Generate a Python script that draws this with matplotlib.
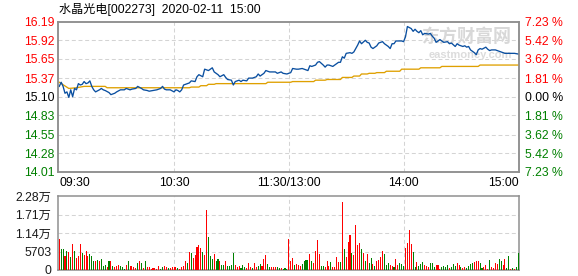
import matplotlib
matplotlib.use("Agg")
import matplotlib.pyplot as plt

plt.rcParams['font.family'] = ['Liberation Sans', 'Noto Sans CJK SC']

# Chart texts
title = "水晶光电[002273]  2020-02-11  15:00"
pre_close = 15.10
price_ticks = [14.01, 14.28, 14.55, 14.83, 15.10, 15.37, 15.65, 15.92, 16.19]
pct_labels = ["7.23 %", "5.42 %", "3.62 %", "1.81 %", "0.00 %",
              "1.81 %", "3.62 %", "5.42 %", "7.23 %"]
time_pos = [0, 60, 120, 180, 240]
time_labels = ["09:30", "10:30", "11:30/13:00", "14:00", "15:00"]
vol_ticks = [0, 5703, 11406, 17109, 22812]
vol_labels = ["0", "5703", "1.14万", "1.71万", "2.28万"]

# Price line (minute index, price)
price_min = [0, 1, 2, 3, 4, 5, 6, 7, 8, 9, 10, 11, 12, 13, 14, 15, 16, 17, 18, 19,
             21, 22, 23, 24, 26, 27, 29, 30, 32, 34, 35, 37, 38, 40, 41, 43, 44, 46, 47, 49,
             51, 53, 54, 55, 56, 58, 60, 61, 62, 63, 64, 65, 67, 68, 69, 71, 72, 73, 75, 76,
             78, 79, 80, 81, 83, 84, 86, 87, 88, 90, 91, 92, 94, 95, 96, 98, 99, 101, 103, 104,
             105, 107, 108, 110, 111, 113, 114, 116, 117, 119, 120, 121, 122, 124, 125, 127, 129, 130, 131, 132,
             134, 135, 136, 138, 139, 140, 141, 143, 144, 146, 147, 148, 149, 150, 152, 153, 154, 156, 157, 158,
             160, 161, 162, 163, 164, 165, 166, 167, 169, 170, 172, 173, 174, 175, 176, 178, 179, 180, 181, 182,
             184, 185, 186, 187, 188, 189, 190, 191, 193, 194, 195, 196, 197, 199, 200, 201, 203, 204, 205, 207,
             208, 209, 211, 212, 213, 214, 215, 217, 218, 219, 220, 221, 223, 224, 225, 226, 228, 229, 231, 233,
             234, 236, 238, 240]
price = [15.25, 15.31, 15.25, 15.15, 15.17, 15.09, 15.20, 15.10, 15.22, 15.20, 15.29, 15.27, 15.28, 15.32, 15.29, 15.30, 15.33, 15.25, 15.20, 15.17,
         15.20, 15.22, 15.20, 15.19, 15.16, 15.13, 15.15, 15.17, 15.20, 15.20, 15.22, 15.20, 15.21, 15.22, 15.25, 15.22, 15.20, 15.19, 15.18, 15.19,
         15.20, 15.22, 15.25, 15.21, 15.20, 15.20, 15.17, 15.20, 15.19, 15.17, 15.20, 15.27, 15.29, 15.30, 15.33, 15.32, 15.39, 15.42, 15.39, 15.50,
         15.48, 15.50, 15.52, 15.46, 15.42, 15.39, 15.42, 15.38, 15.35, 15.34, 15.27, 15.32, 15.34, 15.32, 15.34, 15.33, 15.37, 15.37, 15.39, 15.43,
         15.40, 15.44, 15.48, 15.46, 15.46, 15.46, 15.44, 15.46, 15.44, 15.43, 15.44, 15.45, 15.51, 15.50, 15.50, 15.51, 15.49, 15.48, 15.55, 15.54,
         15.56, 15.60, 15.61, 15.56, 15.53, 15.56, 15.56, 15.54, 15.56, 15.60, 15.60, 15.68, 15.66, 15.73, 15.74, 15.73, 15.75, 15.85, 15.91, 15.87,
         15.92, 15.89, 15.88, 15.82, 15.80, 15.82, 15.84, 15.88, 15.90, 15.87, 15.83, 15.80, 15.87, 15.87, 15.91, 15.91, 15.91, 15.90, 15.97, 16.12,
         16.09, 16.05, 16.08, 16.05, 16.03, 16.06, 16.00, 16.02, 16.01, 16.02, 15.98, 15.95, 15.89, 15.93, 15.91, 15.89, 15.90, 15.87, 15.88, 15.83,
         15.87, 15.85, 15.83, 15.84, 15.82, 15.83, 15.78, 15.74, 15.71, 15.78, 15.80, 15.79, 15.82, 15.79, 15.77, 15.78, 15.78, 15.77, 15.75, 15.73,
         15.73, 15.73, 15.73, 15.72]

# Average price line
avg_min = [0, 5, 9, 13, 24, 25, 61, 68, 69, 73, 74, 77, 78, 81, 82, 108, 109, 121, 122, 133,
           134, 139, 140, 147, 148, 153, 154, 157, 158, 161, 162, 165, 166, 170, 171, 178, 179, 188, 189, 199,
           200, 219, 220, 240]
avg_price = [15.31, 15.22, 15.23, 15.25, 15.25, 15.23, 15.23, 15.23, 15.24, 15.24, 15.26, 15.26, 15.28, 15.28, 15.29, 15.29, 15.31, 15.31, 15.32, 15.32,
             15.34, 15.34, 15.35, 15.35, 15.38, 15.38, 15.40, 15.40, 15.43, 15.43, 15.44, 15.44, 15.45, 15.45, 15.47, 15.47, 15.50, 15.50, 15.52, 15.52,
             15.54, 15.54, 15.56, 15.56]

# Volume per minute and direction (r = up, g = down)
volume = [9580, 6490, 6490, 4430, 5970, 5670, 4020, 8030, 5870, 3810,
          4330, 8030, 5250, 4640, 5870, 4330, 4940, 4330, 2880, 2880,
          3090, 2780, 3400, 1340, 1650, 930, 2880, 2880, 1240, 820,
          1240, 1550, 1240, 820, 310, 1550, 2880, 1240, 1240, 930,
          620, 2160, 2880, 2270, 620, 2880, 1030, 820, 410, 620,
          620, 410, 1240, 410, 820, 1240, 930, 720, 620, 930, 930,
          820, 620, 410, 820, 1240, 2780, 2060, 5460, 5360, 3610,
          4530, 7000, 7730, 6700, 5670, 4640, 18540, 10300, 4330, 3300,
          4940, 2880, 3400, 2880, 1550, 1550, 2880, 1240, 1340, 1440,
          5360, 1550, 820, 1240, 520, 1550, 820, 520, 2270, 820,
          520, 2060, 820, 1240, 1850, 1240, 3400, 4640, 1850, 1030,
          820, 820, 820, 820, 520, 620, 410, 620, 410,
          9580, 2880, 3710, 1550, 1850, 1440, 1240, 1850, 2780, 3090,
          3090, 4940, 2880, 2270, 5870, 9270, 4940, 1240, 1240, 820,
          2780, 1240, 2470, 930, 930, 4020, 2470, 2470, 21010, 6390,
          4020, 8650, 10820, 5360, 4640, 13910, 7730, 8340, 6490, 5250,
          2780, 4940, 2160, 3710, 1850, 1240, 2780, 3090, 4020, 5870,
          4940, 1550, 2160, 1550, 1240, 930, 3400, 1550, 2160, 1850,
          1240, 6800, 8340, 12360, 8030, 5560, 930, 2470, 1240, 1850,
          2470, 1550, 1240, 930, 2160, 2160, 930, 1550, 1550, 310,
          930, 1240, 930, 1550, 620, 930, 1850, 1240, 2160, 1550,
          930, 620, 930, 620, 1240, 1850, 2160, 2470, 2780, 2780,
          2160, 620, 930, 1550, 310, 3090, 930, 620, 2160, 1850,
          3400, 2780, 1550, 3400, 620, 4330, 310, 620, 310, 930,
          5250]
vol_dir = ("rggrgrgrgr" "rrgrrrgggr" "grgggrgrgr" "rrgggrgrrr" "rgrgrgrrrr" "rrrggrrgrrr"
           "rgrrrrgrgr" "rrrrgrrggg" "rggrggrggg" "grrrgggrrr" "grrggrrrgg" "rrrggrggg"
           "rrrgrrrggg" "grgrrrrggr" "rrgrrrrgrg" "rrrgrrrrgr" "grggrgrrrr" "gggrrgrrgg"
           "grrrrggrgg" "grrrgggrrr" "ggggrgggrr" "grrggggrrr" "ggrrrgrrrr" "ggrrggrgrg" "g")

RED = "#ff0000"
GREEN = "#008000"
FRAME = "#8f8f8f"
GRID = "#d4d4d4"

fig = plt.figure(figsize=(5.78, 2.76), dpi=100)
ax = fig.add_axes([58.3 / 578, 104.3 / 276, 461 / 578, 150 / 276])
axv = fig.add_axes([58.3 / 578, 6 / 276, 461 / 578, 74 / 276])

minutes = list(range(len(volume)))

# price panel
ax.plot(avg_min, avg_price, color="#dfa000", lw=0.95, zorder=3)
ax.plot(price_min, price, color="#0a4fa0", lw=0.95, zorder=4)
ax.set_xlim(-0.5, 240.5)
ax.set_ylim(price_ticks[0], price_ticks[-1])
ax.set_yticks(price_ticks)
ax.set_yticklabels([f"{t:.2f}" for t in price_ticks])
ax.set_xticks(time_pos)
ax.set_xticklabels(time_labels)
ax.tick_params(length=0, labelsize=8.8, pad=3)
ax.tick_params(axis="x", pad=4)
xl = ax.get_xticklabels()
xl[0].set_ha("left")
xl[-1].set_ha("right")

def tick_color(t):
    if t > pre_close + 1e-6:
        return RED
    if t < pre_close - 1e-6:
        return GREEN
    return "#000000"

for lab, t in zip(ax.get_yticklabels(), price_ticks):
    lab.set_color(tick_color(t))

axr = ax.twinx()
axr.set_ylim(ax.get_ylim())
axr.set_yticks(price_ticks)
axr.set_yticklabels(pct_labels)
axr.tick_params(length=0, labelsize=8.8, pad=4)
for lab, t in zip(axr.get_yticklabels(), price_ticks):
    lab.set_color(tick_color(t))

# grid lines (skip the frame edges)
for t in price_ticks[1:-1]:
    ax.axhline(t, color=GRID, lw=0.75, ls=(0, (3.8, 2.6)), zorder=1)
for m in time_pos[1:-1]:
    ax.axvline(m, color=GRID, lw=0.75, ls=(0, (3.8, 2.6)), zorder=1)

# watermark
ax.text(0.985, 0.90, "东方财富网", transform=ax.transAxes, ha="right", va="center",
        fontsize=13, fontweight="bold", color="#d8d8d8", zorder=2)
ax.text(0.985, 0.78, "eastmoney.com", transform=ax.transAxes, ha="right", va="center",
        fontsize=8, fontweight="bold", color="#dcdcdc", zorder=2)

# volume panel
colors = [RED if d == "r" else GREEN for d in vol_dir]
axv.bar(minutes, volume, width=0.55, color=colors, zorder=3)
axv.set_xlim(-0.5, 240.5)
axv.set_ylim(vol_ticks[0], vol_ticks[-1])
axv.set_yticks(vol_ticks)
axv.set_yticklabels(vol_labels)
axv.set_xticks([])
axv.tick_params(length=0, labelsize=8.8, pad=5, labelcolor="#1a1a1a")
for t in vol_ticks[1:-1]:
    axv.axhline(t, color=GRID, lw=0.75, ls=(0, (3.8, 2.6)), zorder=1)
for m in time_pos[1:-1]:
    axv.axvline(m, color=GRID, lw=0.75, ls=(0, (3.8, 2.6)), zorder=1)

for a in (ax, axr, axv):
    for s in a.spines.values():
        s.set_color(FRAME)
        s.set_linewidth(1.1)

fig.text(59 / 578, 1 - 9 / 276, title, ha="left", va="center", fontsize=8.7, color="#000000")

fig.savefig("out.png", dpi=100)
